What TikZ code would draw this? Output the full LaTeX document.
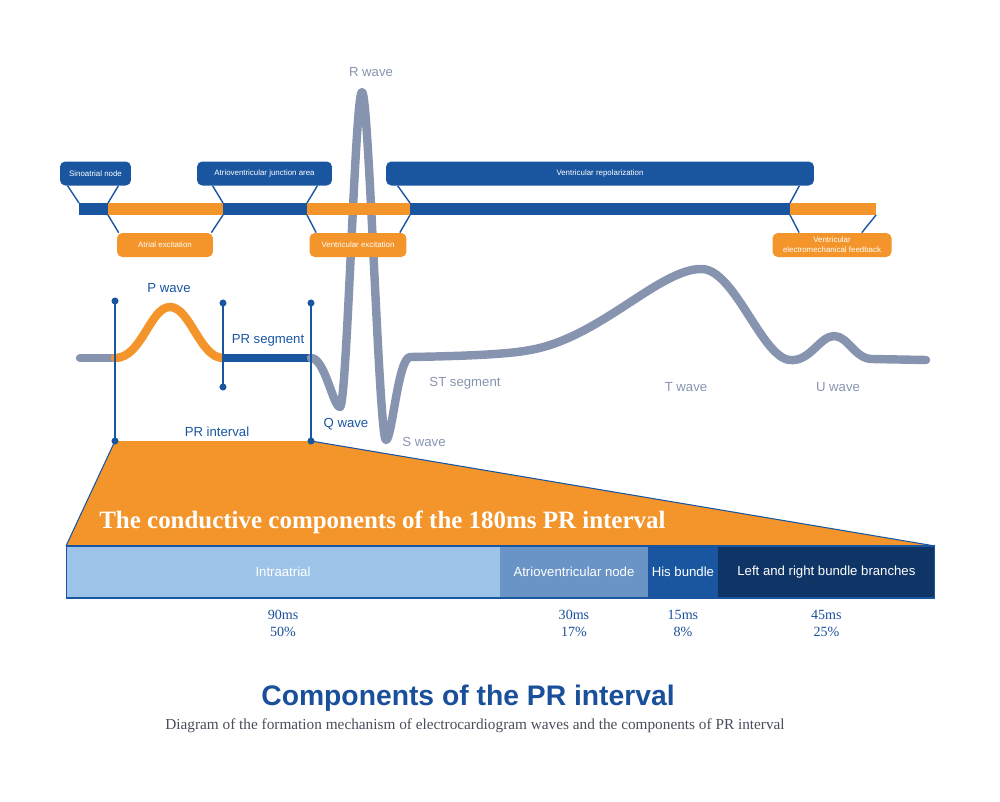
\documentclass[tikz,border=0pt]{standalone}
\usepackage{fontspec}
\setmainfont{Liberation Serif}
\setsansfont{Liberation Sans}
\usetikzlibrary{positioning}
\definecolor{ecgblue}{HTML}{1A56A0}
\definecolor{ecgorange}{HTML}{F3952B}
\definecolor{ecggrey}{HTML}{8794B0}
\definecolor{lightblue}{HTML}{9DC4E8}
\definecolor{midblue}{HTML}{6A94C6}
\definecolor{darkblue}{HTML}{0F3566}
\definecolor{textblue}{HTML}{1A4F9A}
\definecolor{subgrey}{HTML}{4A4D5C}
\tikzset{
  bluebox/.style={fill=ecgblue, text=white, rounded corners=3pt, inner sep=0pt,
    minimum height=0.48cm, align=center, font=\sffamily\fontsize{4.5}{5.6}\selectfont},
  orangebox/.style={bluebox, fill=ecgorange},
  link/.style={ecgblue, line width=0.8pt},
  ecgline/.style={line width=4.8pt, line cap=round, line join=round},
  wavelabel/.style={inner sep=0pt, font=\sffamily\fontsize{7.5}{9}\selectfont},
  segbox/.style={minimum height=1.04cm, inner sep=0pt, outer sep=0pt, text=white,
    font=\sffamily\fontsize{7.5}{9}\selectfont},
  share/.style={below=0.24cm of #1, inner sep=0pt, align=center, text=textblue,
    font=\fontsize{8}{9.4}\selectfont}
}

\begin{document}
\begin{tikzpicture}[x=0.02cm, y=-0.02cm]
    \useasboundingbox (0,0) rectangle (1000,801);
    % electrocardiogram
    \draw[ecgline, ecggrey] (80,358) -- (115,358);
    \draw[ecgline, ecgorange] (115,358) .. controls (142,358) and (150,307) .. (170,307)
      .. controls (190,307) and (200,358) .. (223,358);
    \draw[ecgline, ecgblue, line cap=butt] (223,358) -- (311,358);
    \draw[ecgline, ecggrey] (311,358) .. controls (325,358) and (333,407) .. (340,407)
      .. controls (347,407) and (355,92) .. (362,92)
      .. controls (369,92) and (379,440) .. (386,440)
      .. controls (392,440) and (398,358) .. (410,357)
      .. controls (470,356) and (510,354) .. (530,350)
      .. controls (600,338) and (660,268) .. (702,269)
      .. controls (735,270) and (762,358) .. (790,360)
      .. controls (810,362) and (820,336) .. (834,336)
      .. controls (848,336) and (855,359) .. (872,359) -- (926,360);
    % activation bar
    \foreach \a/\b/\c in {79/108/ecgblue, 108/223/ecgorange, 223/307/ecgblue,
      307/410/ecgorange, 410/790/ecgblue, 790/876/ecgorange}
      \fill[\c] (\a,203) rectangle (\b,215);
    \foreach \n/\x in {0/79, 1/108, 2/223, 3/307, 4/410, 5/790, 6/876} {
      \coordinate (t\n) at (\x,203);
      \coordinate (u\n) at (\x,215);
    }
    \node[bluebox, minimum width=1.42cm] (sa) at (95.5,173.5) {Sinoatrial node};
    \node[bluebox, minimum width=2.7cm] (avj) at (264.5,173.5) {Atrioventricular junction area};
    \node[bluebox, minimum width=8.56cm] (vrep) at (600,173.5) {Ventricular repolarization};
    \node[orangebox, minimum width=1.92cm] (atr) at (165,245) {Atrial excitation};
    \node[orangebox, minimum width=1.94cm] (vexc) at (358,245) {Ventricular excitation};
    \node[orangebox, minimum width=2.38cm] (vemf) at (832,245) {Ventricular\\electromechanical feedback};
    \draw[link] ([xshift=0.16cm]sa.south west) -- (t0);
    \draw[link] ([xshift=-0.26cm]sa.south east) -- (t1);
    \draw[link] ([xshift=0.32cm]avj.south west) -- (t2);
    \draw[link] ([xshift=-0.30cm]avj.south east) -- (t3);
    \draw[link] ([xshift=0.24cm]vrep.south west) -- (t4);
    \draw[link] ([xshift=-0.30cm]vrep.south east) -- (t5);
    \draw[link] (u1) -- ([xshift=0.04cm]atr.north west);
    \draw[link] (u2) -- ([xshift=-0.04cm]atr.north east);
    \draw[link] (u3) -- ([xshift=0.14cm]vexc.north west);
    \draw[link] (u4) -- ([xshift=-0.14cm]vexc.north east);
    \draw[link] (u5) -- ([xshift=0.54cm]vemf.north west);
    \draw[link] (u6) -- ([xshift=-0.60cm]vemf.north east);
    % wave labels
    \node[wavelabel, ecggrey] (rw) at (371,72) {R wave};
    \node[wavelabel, ecgblue] (pw) at (169,288) {P wave};
    \node[wavelabel, ecgblue] (prs) at (268,340) {PR segment};
    \node[wavelabel, ecgblue] (pri) at (217,432) {PR interval};
    \node[wavelabel, ecgblue] (qw) at (346,424) {Q wave};
    \node[wavelabel, ecggrey] (sw) at (424,442) {S wave};
    \node[wavelabel, ecggrey] (st) at (465,383) {ST segment};
    \node[wavelabel, ecggrey] (tw) at (686,387) {T wave};
    \node[wavelabel, ecggrey] (uw) at (838,387) {U wave};
    % PR interval
    \fill[ecgorange] (115,441) -- (311,441) -- (935,546) -- (66,546) -- cycle;
    \draw[ecgblue, line width=0.6pt] (66,546) -- (115,441);
    \draw[ecgblue, line width=0.6pt] (311,441) -- (935,546);
    \foreach \n/\x/\top/\bot in {a/115/301/441, b/223/303/387, c/311/303/441} {
      \coordinate (m\n) at (\x,\top);
      \coordinate (n\n) at (\x,\bot);
      \draw[ecgblue, line width=0.6pt] (m\n) -- (n\n);
      \fill[ecgblue] (m\n) circle (2pt) (n\n) circle (2pt);
    }
    \node[anchor=west, inner sep=0pt, text=white, font=\bfseries\fontsize{14.2}{16}\selectfont]
      (cond) at (99,522) {The conductive components of the 180ms PR interval};
    \node[segbox, fill=lightblue, minimum width=8.68cm] (intra) at (283,572) {Intraatrial};
    \node[segbox, fill=midblue, minimum width=2.96cm, right=0pt of intra] (avn) {Atrioventricular node};
    \node[segbox, fill=ecgblue, minimum width=1.4cm, right=0pt of avn] (his) {His bundle};
    \node[segbox, fill=darkblue, minimum width=4.34cm, right=0pt of his] (lrb) {Left and right bundle branches};
    \draw[ecgblue, line width=0.6pt] (intra.north west) rectangle (lrb.south east);
    \node[share=intra] (p1) {90ms\\50\%};
    \node[share=avn] (p2) {30ms\\17\%};
    \node[share=his] (p3) {15ms\\8\%};
    \node[share=lrb] (p4) {45ms\\25\%};
    % titles
    \node[text=textblue, font=\sffamily\bfseries\fontsize{16.1}{19}\selectfont] (title) at (468,698)
      {Components of the PR interval};
    \node[text=subgrey, font=\fontsize{8.7}{10}\selectfont] (sub) at (475,726)
      {Diagram of the formation mechanism of electrocardiogram waves and the components of PR interval};
\end{tikzpicture}
\end{document}
